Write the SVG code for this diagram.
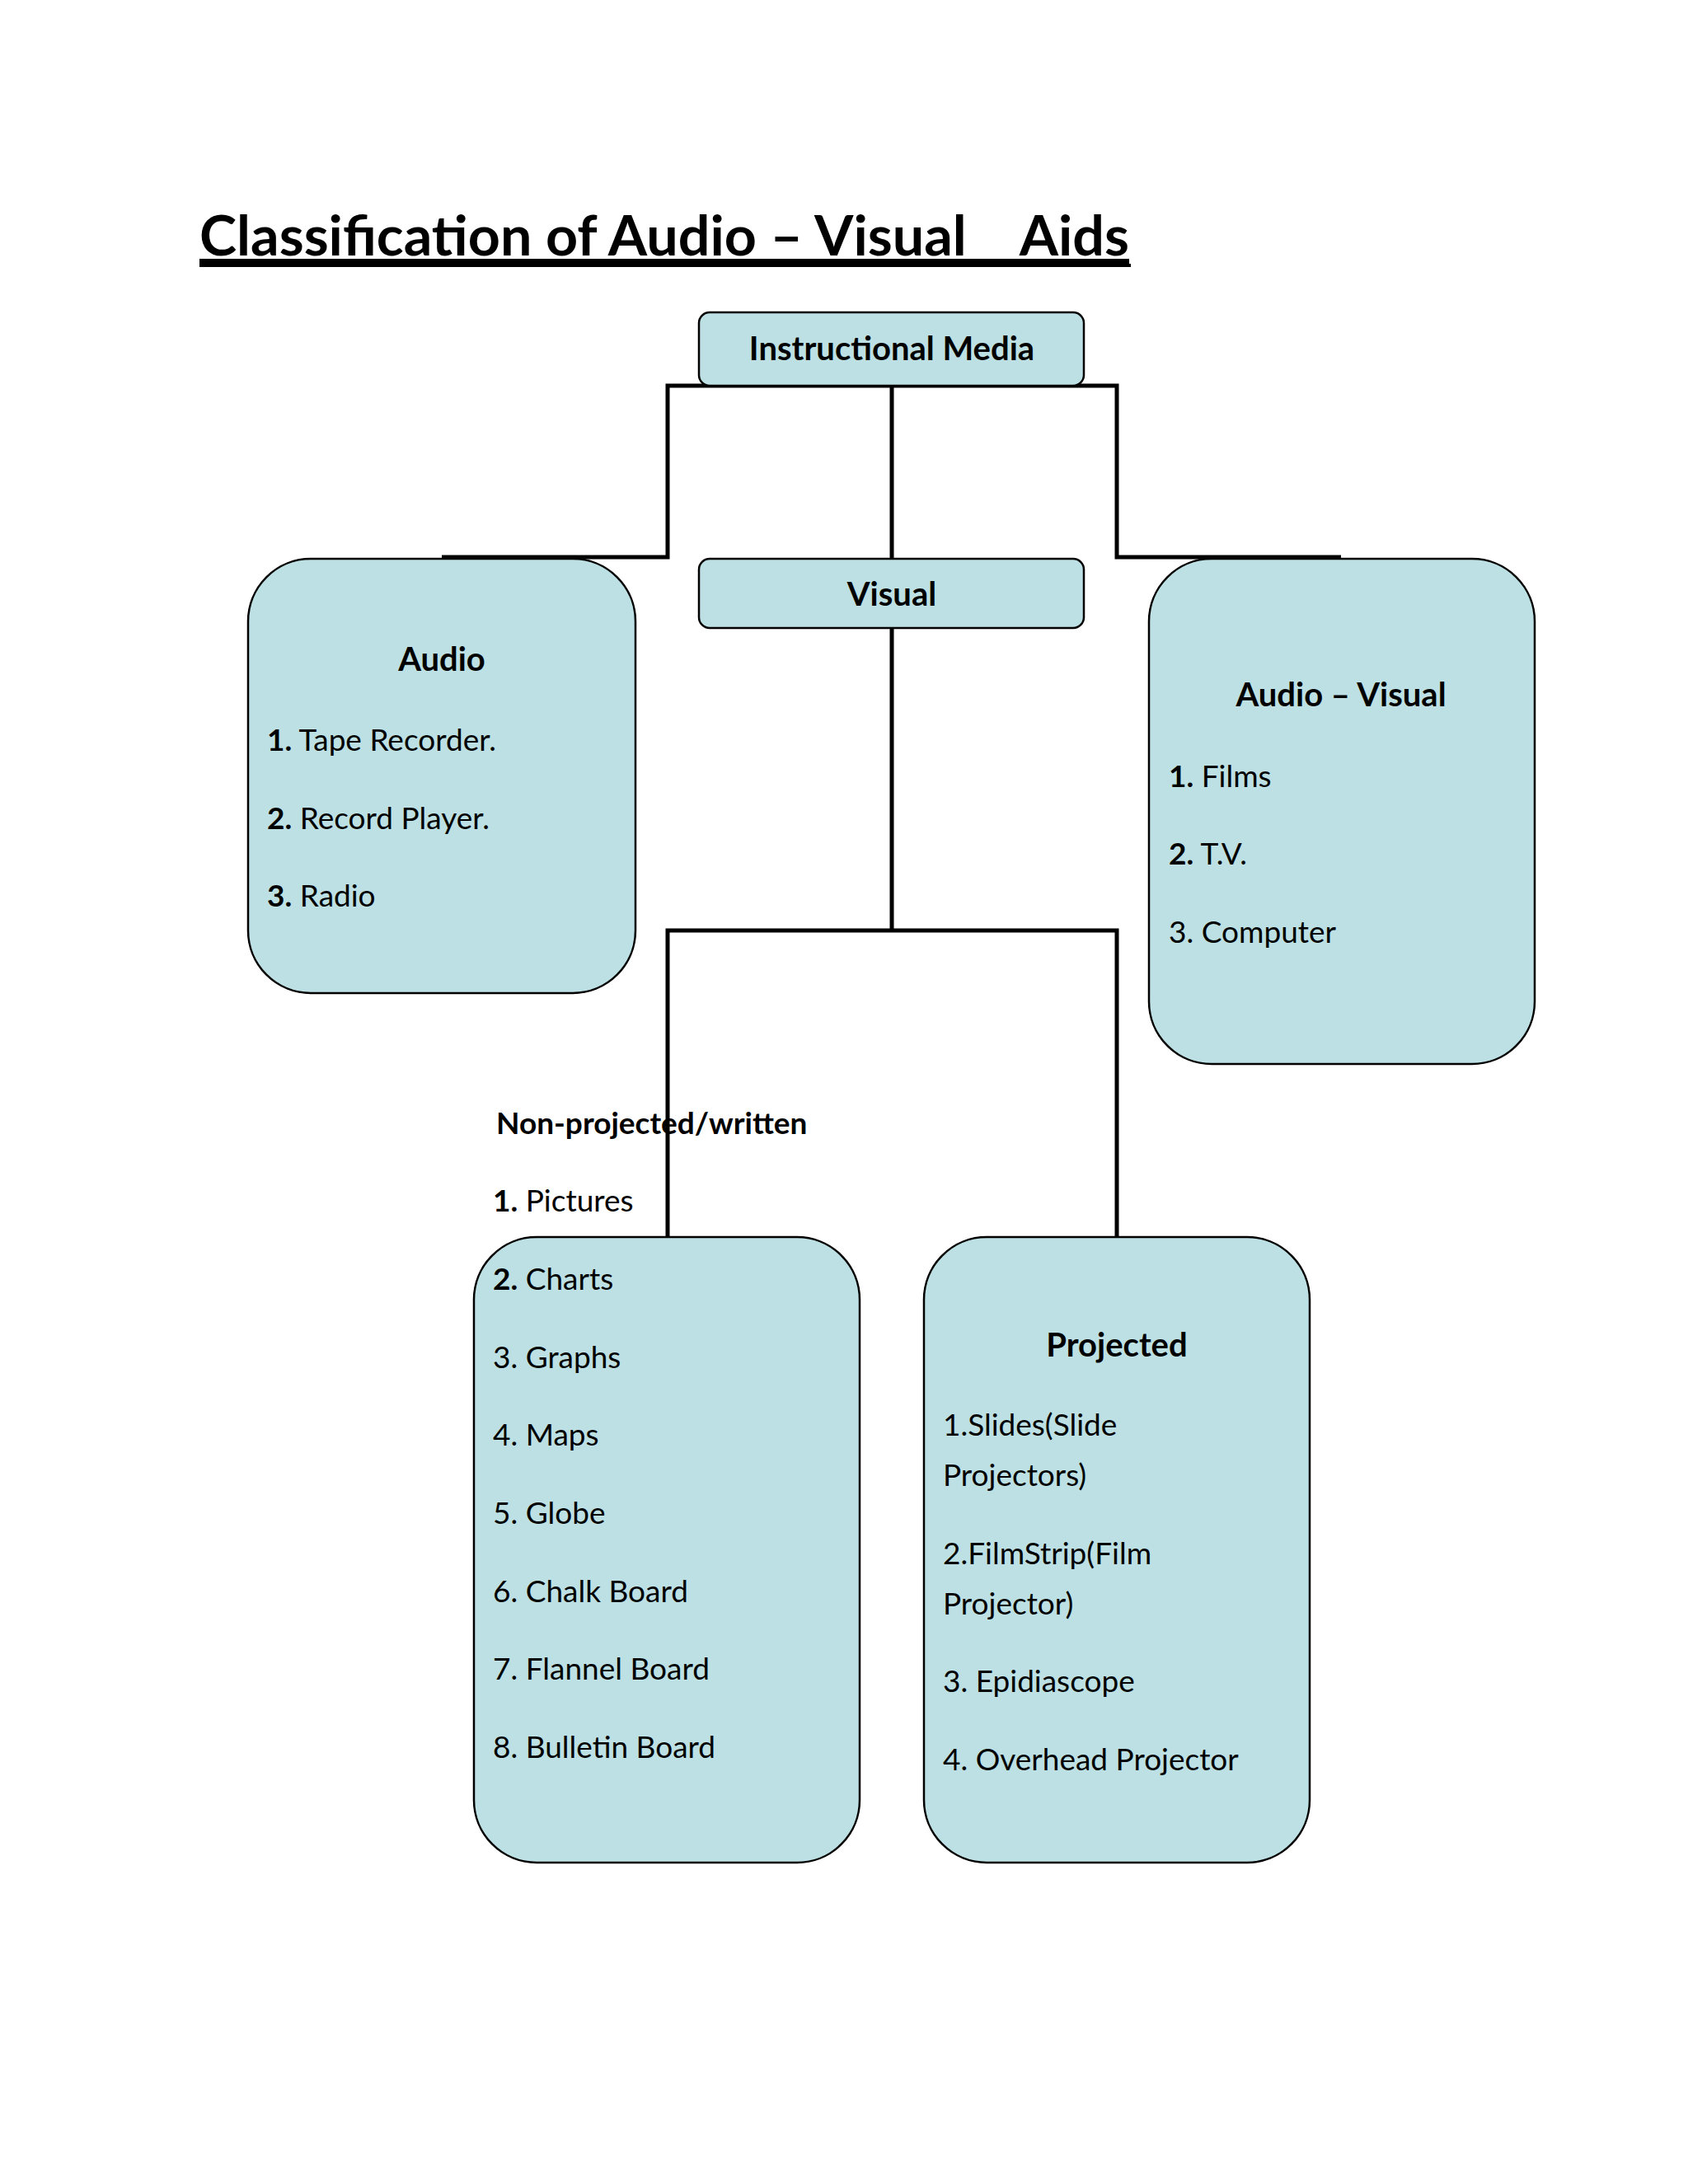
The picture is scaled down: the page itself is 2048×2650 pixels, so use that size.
<svg xmlns="http://www.w3.org/2000/svg" width="2048" height="2650" viewBox="0 0 2048 2650">
<style>
.box{fill:#bce0e3;stroke:#000;stroke-width:2.5}
text{font-family:Lato,"Noto Sans",sans-serif;fill:#000}
.t{font-size:40px;font-weight:bold;text-anchor:middle}
.i{font-size:37px}
.c{stroke:#000;stroke-width:5;fill:none}
</style>
<rect width="2048" height="2650" fill="#fff"/>
<text x="242" y="310" font-size="66" font-weight="bold" text-decoration="underline" textLength="1128" lengthAdjust="spacingAndGlyphs" style="white-space:pre" xml:space="preserve">Classification of Audio – Visual    Aids</text>
<line x1="242" y1="322" x2="1372" y2="322" stroke="#000" stroke-width="4"/>
<g id="connectors">
<polyline class="c" points="536,676 810,676 810,468 1355,468 1355,676 1627,676"/>
<line class="c" x1="1082" y1="468" x2="1082" y2="678"/>
<polyline class="c" points="810,1501 810,1129 1355,1129 1355,1501"/>
<line class="c" x1="1082" y1="762" x2="1082" y2="1129"/>
</g>
<g id="instructional">
<rect class="box" x="848" y="379" width="467" height="89" rx="13"/>
<text class="t" x="1082" y="437">Instructional Media</text>
</g>
<g id="visual">
<rect class="box" x="848" y="678" width="467" height="84" rx="13"/>
<text class="t" x="1082" y="735">Visual</text>
</g>
<g id="audio">
<rect class="box" x="301" y="678" width="470" height="527" rx="76"/>
<text class="t" x="536" y="814">Audio</text>
<text class="i" x="324" y="911"><tspan font-weight="bold">1.</tspan> Tape Recorder.</text>
<text class="i" x="324" y="1006"><tspan font-weight="bold">2.</tspan> Record Player.</text>
<text class="i" x="324" y="1100"><tspan font-weight="bold">3.</tspan> Radio</text>
</g>
<g id="audiovisual">
<rect class="box" x="1394" y="678" width="468" height="613" rx="76"/>
<text class="t" x="1627" y="857">Audio – Visual</text>
<text class="i" x="1418" y="955"><tspan font-weight="bold">1.</tspan> Films</text>
<text class="i" x="1418" y="1049"><tspan font-weight="bold">2.</tspan> T.V.</text>
<text class="i" x="1418" y="1144">3. Computer</text>
</g>
<g id="nonprojected">
<rect class="box" x="575" y="1501" width="468" height="759" rx="76"/>
<text class="i" x="602" y="1376" font-weight="bold">Non-projected/written</text>
<text class="i" x="598" y="1470"><tspan font-weight="bold">1.</tspan> Pictures</text>
<text class="i" x="598" y="1565"><tspan font-weight="bold">2.</tspan> Charts</text>
<text class="i" x="598" y="1660">3. Graphs</text>
<text class="i" x="598" y="1754">4. Maps</text>
<text class="i" x="598" y="1849">5. Globe</text>
<text class="i" x="598" y="1944">6. Chalk Board</text>
<text class="i" x="598" y="2038">7. Flannel Board</text>
<text class="i" x="598" y="2133">8. Bulletin Board</text>
</g>
<g id="projected">
<rect class="box" x="1121" y="1501" width="468" height="759" rx="76"/>
<text class="t" x="1355" y="1646">Projected</text>
<text class="i" x="1144" y="1742">1.Slides(Slide</text>
<text class="i" x="1144" y="1803">Projectors)</text>
<text class="i" x="1144" y="1898">2.FilmStrip(Film</text>
<text class="i" x="1144" y="1959">Projector)</text>
<text class="i" x="1144" y="2053">3. Epidiascope</text>
<text class="i" x="1144" y="2148">4. Overhead Projector</text>
</g>
</svg>
